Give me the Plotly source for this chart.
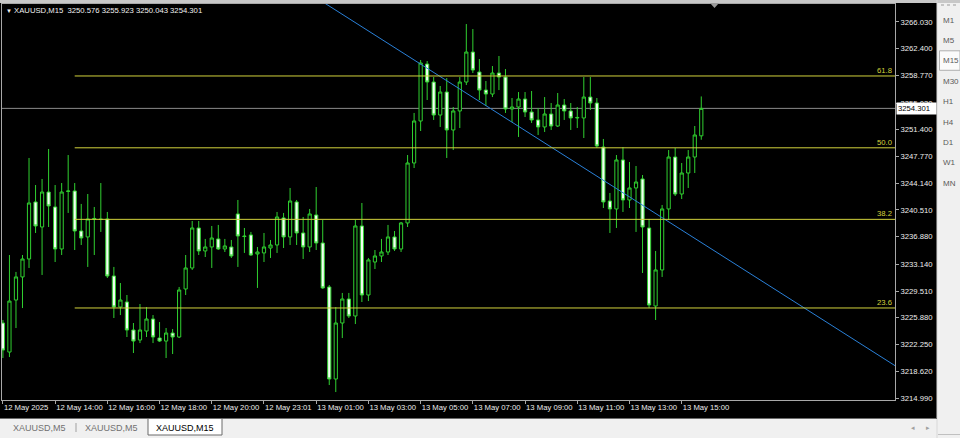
import plotly.graph_objects as go

# ---------------- data ----------------
bar_index = list(range(108))

opens = [3225.17, 3221.23, 3228.29, 3231.42, 3233.86, 3241.60, 3238.20, 3242.95, 3240.92, 3235.22,
         3243.02, 3243.09, 3237.66, 3236.85, 3239.29, 3239.29, 3239.29, 3231.55, 3227.34, 3228.02,
         3224.22, 3222.86, 3224.08, 3225.71, 3223.13, 3222.72, 3223.81, 3223.27, 3229.79, 3232.64,
         3238.07, 3234.95, 3235.49, 3236.58, 3235.22, 3235.49, 3239.97, 3236.98, 3237.12, 3234.54,
         3234.68, 3235.35, 3235.76, 3239.43, 3236.85, 3241.60, 3237.39, 3235.49, 3239.83, 3236.03,
         3230.06, 3217.57, 3225.17, 3228.43, 3226.12, 3238.34, 3228.97, 3233.45, 3234.27, 3234.81,
         3236.85, 3235.22, 3238.75, 3246.89, 3252.59, 3260.32, 3257.88, 3253.40, 3256.52, 3251.37,
         3253.95, 3257.88, 3261.95, 3259.24, 3256.79, 3256.25, 3259.10, 3258.56, 3254.22, 3254.49,
         3255.57, 3253.81, 3252.73, 3251.78, 3253.54, 3251.91, 3254.76, 3253.95, 3253.00, 3253.00,
         3255.84, 3255.03, 3249.06, 3241.73, 3240.65, 3247.30, 3241.87, 3243.50, 3244.72, 3238.07,
         3227.48, 3232.37, 3240.65, 3247.70, 3242.68, 3245.53, 3247.70, 3250.576]

highs = [3225.58, 3234.40, 3232.10, 3234.40, 3247.57, 3243.90, 3244.72, 3248.79, 3243.90, 3244.17,
         3247.97, 3244.17, 3241.33, 3242.68, 3240.92, 3244.17, 3240.24, 3232.78, 3230.60, 3228.97,
         3225.17, 3227.75, 3227.34, 3226.25, 3225.30, 3224.49, 3224.35, 3230.06, 3234.40, 3239.02,
         3239.02, 3236.58, 3238.34, 3238.48, 3236.58, 3236.44, 3241.87, 3238.07, 3237.53, 3235.49,
         3237.39, 3236.44, 3240.24, 3240.11, 3243.50, 3241.87, 3239.56, 3240.65, 3243.63, 3239.16,
         3230.33, 3227.34, 3229.25, 3229.25, 3239.16, 3241.46, 3234.00, 3235.08, 3236.58, 3238.48,
         3237.66, 3238.88, 3247.97, 3253.68, 3260.87, 3260.73, 3258.56, 3257.34, 3258.42, 3254.49,
         3258.56, 3265.75, 3265.07, 3261.00, 3258.02, 3260.05, 3261.41, 3259.64, 3255.71, 3256.52,
         3256.52, 3256.66, 3254.35, 3255.84, 3255.03, 3256.39, 3255.57, 3255.03, 3254.49, 3258.56,
         3258.56, 3255.71, 3250.15, 3242.82, 3247.97, 3249.06, 3247.02, 3246.48, 3245.26, 3239.29,
         3234.95, 3241.19, 3248.65, 3248.92, 3246.89, 3248.65, 3251.91, 3255.923]

lows = [3220.42, 3220.55, 3224.49, 3227.20, 3232.64, 3237.39, 3231.69, 3238.20, 3233.45, 3234.40,
        3240.11, 3235.08, 3235.76, 3232.78, 3234.40, 3237.53, 3231.28, 3225.85, 3226.25, 3223.27,
        3221.10, 3222.45, 3223.27, 3222.45, 3222.59, 3220.42, 3220.96, 3223.13, 3228.97, 3232.37,
        3234.40, 3234.13, 3232.64, 3235.08, 3234.81, 3234.00, 3232.78, 3234.68, 3234.27, 3229.93,
        3233.45, 3234.00, 3234.68, 3235.35, 3235.76, 3235.76, 3233.86, 3234.81, 3235.08, 3229.79,
        3216.75, 3215.80, 3223.13, 3225.85, 3225.03, 3228.02, 3228.15, 3232.50, 3233.45, 3234.40,
        3234.95, 3234.81, 3238.20, 3246.21, 3251.23, 3255.44, 3252.73, 3251.78, 3247.57, 3248.65,
        3251.64, 3257.47, 3259.10, 3255.44, 3254.63, 3255.84, 3256.79, 3253.68, 3252.45, 3250.42,
        3253.13, 3252.32, 3250.69, 3251.10, 3251.37, 3251.78, 3252.73, 3251.37, 3251.64, 3250.28,
        3254.08, 3248.92, 3240.78, 3237.39, 3238.07, 3240.24, 3240.78, 3237.53, 3231.96, 3227.20,
        3225.58, 3231.42, 3239.16, 3242.41, 3242.00, 3243.50, 3245.53, 3250.043]

closes = [3221.50, 3228.15, 3231.42, 3233.86, 3241.46, 3238.34, 3242.95, 3241.06, 3235.22, 3242.95,
          3243.09, 3237.66, 3236.71, 3239.29, 3239.36, 3239.22, 3231.55, 3227.34, 3228.29, 3224.22,
          3222.72, 3224.22, 3225.71, 3223.27, 3222.72, 3223.81, 3223.27, 3229.65, 3232.64, 3238.07,
          3234.95, 3235.49, 3236.71, 3235.22, 3235.63, 3234.27, 3236.98, 3236.91, 3234.40, 3234.81,
          3235.49, 3235.76, 3239.56, 3236.85, 3241.73, 3237.39, 3235.49, 3239.97, 3236.03, 3229.93,
          3217.57, 3225.17, 3228.43, 3226.12, 3238.34, 3228.97, 3233.73, 3234.27, 3234.81, 3236.85,
          3235.22, 3238.75, 3246.89, 3252.59, 3260.46, 3257.88, 3253.40, 3256.52, 3251.37, 3253.95,
          3257.88, 3261.95, 3259.51, 3256.79, 3256.25, 3259.10, 3258.56, 3254.22, 3254.49, 3255.57,
          3253.81, 3252.73, 3251.78, 3253.54, 3251.91, 3254.76, 3253.95, 3253.00, 3253.07, 3255.84,
          3255.03, 3249.20, 3241.60, 3240.65, 3247.30, 3241.87, 3243.50, 3244.31, 3238.20, 3227.61,
          3232.37, 3240.65, 3247.70, 3242.68, 3245.53, 3247.70, 3250.69, 3254.301]

time_tick_bars = [0, 8, 16, 24, 32, 40, 48, 56, 64, 72, 80, 88, 96, 104]
time_tick_labels = ["12 May 2025", "12 May 14:00", "12 May 16:00", "12 May 18:00", "12 May 20:00",
                    "12 May 23:01", "13 May 01:00", "13 May 03:00", "13 May 05:00", "13 May 07:00",
                    "13 May 09:00", "13 May 11:00", "13 May 13:00", "13 May 15:00"]

price_ticks = [3214.99, 3218.62, 3222.25, 3225.88, 3229.51, 3233.14, 3236.88, 3240.51,
               3244.14, 3247.77, 3251.40, 3255.03, 3258.77, 3262.40, 3266.03]

fib_labels = ["23.6", "38.2", "50.0", "61.8"]
fib_prices = [3227.21, 3239.24, 3248.95, 3258.70]
fib_start_bar = 11

trend_bars = [48, 136.7]
trend_prices = [3269.32, 3219.37]

symbol = "XAUUSD,M15"
timeframes = ["M1", "M5", "M15", "M30", "H1", "H4", "D1", "W1", "MN"]
active_timeframe = "M15"
tabs = ["XAUUSD,M5", "XAUUSD,M5", "XAUUSD,M15"]

x_range = [-0.14, 136.68]
y_range = [3214.72, 3268.47]

# ---------------- geometry helpers (layout only) ----------------
W, H = 960, 438
L, R, T, B = 2, 895, 4, 400


def px2x(px):
    return (px - L) / (R - L)


def py2y(py):
    return (B - py) / (B - T)


GREEN = "#30d030"
BULL_FILL = "#000000"
BEAR_FILL = "#f2fff2"
FIB = "#d2d23c"
AX_TXT = "#ececec"
FRAME = "#a8a8a8"
FONT = "Liberation Sans"

fig = go.Figure()

fig.add_trace(go.Candlestick(
    x=bar_index, open=opens, high=highs, low=lows, close=closes,
    increasing=dict(line=dict(color=GREEN, width=1), fillcolor=BULL_FILL),
    decreasing=dict(line=dict(color=GREEN, width=1), fillcolor=BEAR_FILL),
    whiskerwidth=0, hoverinfo="skip", showlegend=False,
))

fig.add_trace(go.Scatter(
    x=trend_bars, y=trend_prices, mode="lines",
    line=dict(color="#2a80d8", width=1), hoverinfo="skip", showlegend=False,
))

shapes = []
shapes.append(dict(type="rect", xref="paper", yref="paper", layer="below",
                   x0=px2x(0), x1=px2x(937), y0=py2y(418), y1=py2y(3),
                   fillcolor="#000000", line=dict(width=0)))
shapes.append(dict(type="rect", xref="paper", yref="paper", layer="below",
                   x0=px2x(0), x1=px2x(960), y0=py2y(3), y1=py2y(0),
                   fillcolor="#c8c8c8", line=dict(width=0)))
shapes.append(dict(type="line", xref="paper", yref="y", layer="below",
                   x0=0, x1=1, y0=closes[-1], y1=closes[-1],
                   line=dict(color="#8a8a8a", width=1)))
for fp in fib_prices:
    shapes.append(dict(type="line", xref="x", yref="y", x0=fib_start_bar, x1=x_range[1],
                       y0=fp, y1=fp, line=dict(color=FIB, width=1)))
shapes.append(dict(type="path", xref="paper", yref="paper",
                   path=f"M {px2x(710)},{py2y(3)} L {px2x(719)},{py2y(3)} L {px2x(714.5)},{py2y(8)} Z",
                   fillcolor="#9a9a9a", line=dict(width=0)))
shapes.append(dict(type="line", xref="paper", yref="paper",
                   x0=px2x(937), x1=px2x(937), y0=py2y(438), y1=py2y(0),
                   line=dict(color="#d8d8d8", width=1)))
shapes.append(dict(type="line", xref="paper", yref="paper",
                   x0=px2x(941), x1=px2x(957), y0=py2y(5), y1=py2y(5),
                   line=dict(color="#9a9a9a", width=1, dash="dot")))
ai = timeframes.index(active_timeframe)
shapes.append(dict(type="rect", xref="paper", yref="paper",
                   x0=px2x(939.5), x1=px2x(960), y0=py2y(20 + 20.4 * ai + 9.5), y1=py2y(20 + 20.4 * ai - 10),
                   fillcolor="#fbfbfb", line=dict(color="#b0b0b0", width=1)))
shapes.append(dict(type="line", xref="paper", yref="paper",
                   x0=px2x(0), x1=px2x(937), y0=py2y(418.5), y1=py2y(418.5),
                   line=dict(color="#6a6a6a", width=1)))
shapes.append(dict(type="rect", xref="paper", yref="paper",
                   x0=px2x(148), x1=px2x(222), y0=py2y(435), y1=py2y(418.5),
                   fillcolor="#ffffff", line=dict(color="#6a6a6a", width=1)))
shapes.append(dict(type="line", xref="paper", yref="paper",
                   x0=px2x(76), x1=px2x(76), y0=py2y(432), y1=py2y(423),
                   line=dict(color="#a0a0a0", width=1)))
shapes.append(dict(type="line", xref="paper", yref="paper",
                   x0=px2x(938), x1=px2x(960), y0=py2y(434.5), y1=py2y(434.5),
                   line=dict(color="#c0c0c0", width=1)))

annotations = []
annotations.append(dict(
    xref="paper", yref="paper", x=px2x(4), y=py2y(11), xanchor="left", yanchor="middle",
    text=f"<span style='font-size:6px'>▼</span> {symbol}  {opens[-1]:.3f} {highs[-1]:.3f} {lows[-1]:.3f} {closes[-1]:.3f}",
    showarrow=False, font=dict(family=FONT, size=7.7, color="#f0f0f0")))
for lab, fp in zip(fib_labels, fib_prices):
    annotations.append(dict(xref="paper", yref="y", x=1, y=fp, xanchor="right", yanchor="bottom",
                            xshift=-1, yshift=-1, text=lab, showarrow=False,
                            font=dict(family=FONT, size=7.7, color=FIB)))
annotations.append(dict(xref="paper", yref="y", x=px2x(896), y=closes[-1], xanchor="left", yanchor="middle",
                        text=f"{closes[-1]:.3f}", showarrow=False, bgcolor="#ffffff", width=37,
                        align="left", borderpad=1,
                        font=dict(family=FONT, size=7.7, color="#000000")))
for k, tf in enumerate(timeframes):
    annotations.append(dict(xref="paper", yref="paper", x=px2x(941), y=py2y(20 + 20.4 * k),
                            xanchor="left", yanchor="middle", text=tf, showarrow=False,
                            font=dict(family=FONT, size=8, color="#5a5a5a")))
tab_centers = [39, 111, 185]
for k, (tab, cx) in enumerate(zip(tabs, tab_centers)):
    annotations.append(dict(xref="paper", yref="paper", x=px2x(cx), y=py2y(427.5),
                            xanchor="center", yanchor="middle", text=tab, showarrow=False,
                            font=dict(family=FONT, size=9,
                                      color="#000000" if k == len(tabs) - 1 else "#707070")))
for cx, ch in [(913, "◂"), (928, "▸")]:
    annotations.append(dict(xref="paper", yref="paper", x=px2x(cx), y=py2y(427.5),
                            xanchor="center", yanchor="middle", text=ch, showarrow=False,
                            font=dict(family="DejaVu Sans", size=7, color="#a0a0a0")))

fig.update_layout(
    width=W, height=H, autosize=False,
    margin=dict(l=L, r=W - R, t=T, b=H - B, pad=0),
    paper_bgcolor="#f0f0f0", plot_bgcolor="rgba(0,0,0,0)",
    showlegend=False,
    shapes=shapes, annotations=annotations,
    xaxis=dict(range=x_range, type="linear", rangeslider=dict(visible=False),
               tickmode="array", tickvals=time_tick_bars, ticktext=time_tick_labels,
               ticks="outside", ticklen=3, tickcolor=FRAME, ticklabelposition="outside right",
               tickangle=0,
               tickfont=dict(family=FONT, size=7.7, color=AX_TXT),
               showgrid=False, zeroline=False, showline=True, linecolor=FRAME, mirror=True,
               fixedrange=True),
    yaxis=dict(range=y_range, side="right",
               tickmode="array", tickvals=price_ticks, ticktext=[f"{v:.3f}" for v in price_ticks],
               ticks="outside", ticklen=3, tickcolor=FRAME,
               tickfont=dict(family=FONT, size=7.7, color=AX_TXT),
               showgrid=False, zeroline=False, showline=True, linecolor=FRAME, mirror=True,
               fixedrange=True),
)

fig.write_html(
    "out.html",
    config={"displayModeBar": False, "staticPlot": True},
    post_script="document.body.style.margin='0';document.body.style.padding='0';document.body.style.overflow='hidden';",
)
